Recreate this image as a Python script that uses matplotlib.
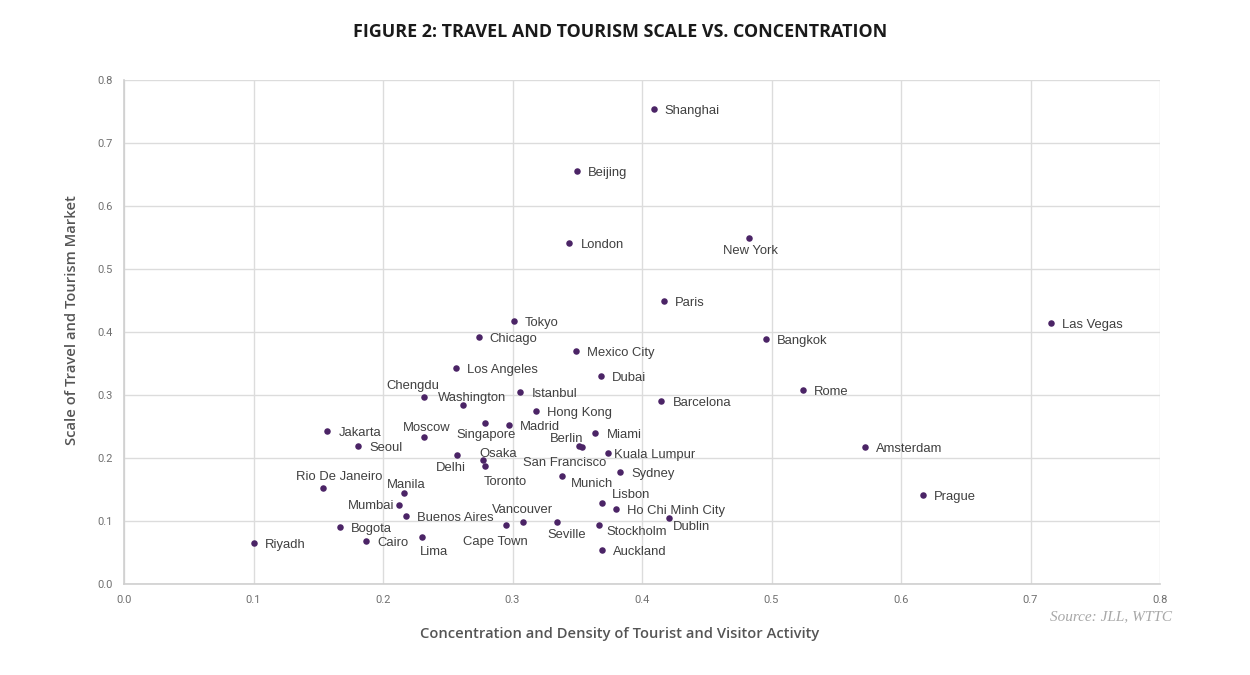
import matplotlib
matplotlib.use("Agg")
import matplotlib.pyplot as plt

# city data
cities = ["Shanghai", "Beijing", "London", "New York", "Paris", "Las Vegas",
          "Bangkok", "Tokyo", "Chicago", "Mexico City", "Los Angeles", "Dubai",
          "Rome", "Istanbul", "Chengdu", "Washington", "Barcelona", "Hong Kong",
          "Singapore", "Madrid", "Jakarta", "Moscow", "Miami", "Berlin",
          "San Francisco", "Seoul", "Kuala Lumpur", "Amsterdam", "Delhi", "Osaka",
          "Toronto", "Sydney", "Munich", "Rio De Janeiro", "Manila", "Prague",
          "Lisbon", "Mumbai", "Ho Chi Minh City", "Buenos Aires", "Dublin",
          "Vancouver", "Seville", "Cape Town", "Stockholm", "Bogota", "Lima",
          "Cairo", "Riyadh", "Auckland"]
concentration = [0.409, 0.350, 0.344, 0.483, 0.417, 0.716,
                 0.496, 0.301, 0.274, 0.349, 0.256, 0.368,
                 0.524, 0.306, 0.232, 0.262, 0.415, 0.318,
                 0.279, 0.297, 0.157, 0.232, 0.364, 0.351,
                 0.354, 0.181, 0.374, 0.572, 0.257, 0.277,
                 0.279, 0.383, 0.338, 0.154, 0.216, 0.617,
                 0.369, 0.212, 0.380, 0.218, 0.421,
                 0.308, 0.334, 0.295, 0.367, 0.167, 0.230,
                 0.187, 0.100, 0.369]
scale = [0.754, 0.655, 0.541, 0.549, 0.449, 0.414,
         0.389, 0.417, 0.392, 0.370, 0.343, 0.330,
         0.308, 0.305, 0.297, 0.284, 0.290, 0.275,
         0.256, 0.252, 0.243, 0.233, 0.240, 0.219,
         0.217, 0.219, 0.208, 0.217, 0.205, 0.197,
         0.187, 0.178, 0.171, 0.152, 0.144, 0.141,
         0.129, 0.125, 0.119, 0.108, 0.105,
         0.098, 0.098, 0.094, 0.094, 0.090, 0.075,
         0.068, 0.065, 0.054]
ticks = [0.0, 0.1, 0.2, 0.3, 0.4, 0.5, 0.6, 0.7, 0.8]

# label placement (pixel offset, horizontal alignment); default is right of the dot
label_pos = {
    "New York": (1, -11, "center"),
    "Chengdu": (-12, 13, "center"),
    "Washington": (9, 9, "center"),
    "Singapore": (1, -10, "center"),
    "Moscow": (2, 11, "center"),
    "Berlin": (-12, 9, "center"),
    "San Francisco": (-18, -14, "center"),
    "Delhi": (-6, -11, "center"),
    "Osaka": (15, 8, "center"),
    "Toronto": (20, -14, "center"),
    "Munich": (9, -6, "left"),
    "Kuala Lumpur": (6, 0, "left"),
    "Rio De Janeiro": (16, 13, "center"),
    "Manila": (3, 10, "center"),
    "Mumbai": (-4, 1, "right"),
    "Vancouver": (0, 14, "center"),
    "Cape Town": (-11, -15, "center"),
    "Seville": (10, -11, "center"),
    "Stockholm": (7, -5, "left"),
    "Lisbon": (10, 10, "left"),
    "Dublin": (4, -7, "left"),
    "Lima": (-2, -13, "left"),
}

W, H = 1250, 675
fig = plt.figure(figsize=(12.5, 6.75), dpi=100)
ax = fig.add_axes([124 / W, 1 - 584 / H, 1036 / W, 504 / H])

ax.scatter(concentration, scale, s=22, color="#4b2466", zorder=3, linewidths=0)

for name, x, y in zip(cities, concentration, scale):
    dx, dy, ha = label_pos.get(name, (11, 0, "left"))
    ax.annotate(name, (x, y), xytext=(dx, dy - 2), textcoords="offset pixels",
                ha=ha, va="center", fontsize=9.4, color="#404040",
                family="Liberation Sans", zorder=4)

ax.set_xlim(0, 0.8)
ax.set_ylim(0, 0.8)
ax.set_xticks(ticks)
ax.set_yticks(ticks)
ax.set_xticklabels([f"{t:.1f}" for t in ticks])
ax.set_yticklabels([f"{t:.1f}" for t in ticks])
ax.grid(True, color="#dcdcdc", linewidth=1)
ax.set_axisbelow(True)
for s in ["top", "right"]:
    ax.spines[s].set_visible(False)
for s in ["left", "bottom"]:
    ax.spines[s].set_color("#cfcfcf")
    ax.spines[s].set_linewidth(1.2)
ax.tick_params(length=0, labelsize=8, labelcolor="#707070", pad=8)
for lab in ax.get_xticklabels() + ax.get_yticklabels():
    lab.set_family("Roboto")

fig.text(620 / W, 1 - 32 / H, "FIGURE 2: TRAVEL AND TOURISM SCALE VS. CONCENTRATION",
         ha="center", va="center", fontsize=12.9, fontweight="bold",
         color="#1a1a1a", family="Open Sans")
fig.text(620 / W, 1 - 634 / H, "Concentration and Density of Tourist and Visitor Activity",
         ha="center", va="center", fontsize=10.6, fontweight="semibold",
         color="#555555", family="Open Sans")
fig.text(72 / W, 1 - 320 / H, "Scale of Travel and Tourism Market",
         ha="center", va="center", rotation=90, fontsize=10.6, fontweight="semibold",
         color="#555555", family="Open Sans")
fig.text(1172 / W, 1 - 617 / H, "Source: JLL, WTTC", ha="right", va="center",
         fontsize=11, style="italic", color="#a8a8a8", family="Liberation Serif")

fig.savefig("out.png", dpi=100, facecolor="white")
